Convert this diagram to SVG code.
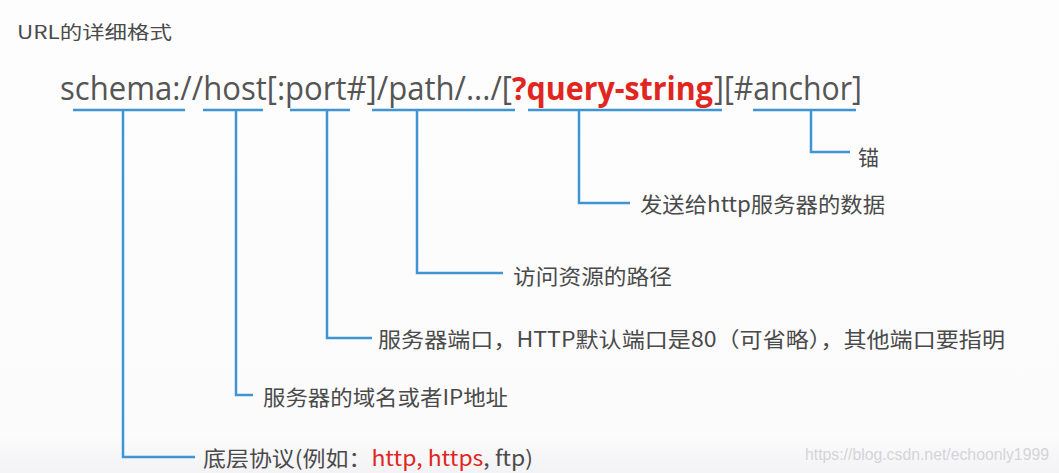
<svg xmlns="http://www.w3.org/2000/svg" width="1059" height="473" viewBox="0 0 1059 473">
<defs>
<style>
.t{font-family:"Noto Sans CJK SC","Noto Sans",sans-serif;fill:#4a4a4a}
.url{font-family:"Open Sans","Noto Sans CJK SC",sans-serif;font-size:32px;fill:#555}
.lbl{font-size:21px}
.red{fill:#e0261e}
.ln{fill:none;stroke:#3f94d4;stroke-width:2.5}
</style>
<linearGradient id="bg" x1="0" y1="0" x2="0" y2="1">
<stop offset="0" stop-color="#fdfdfe"/>
<stop offset="0.92" stop-color="#fbfbfc"/>
<stop offset="1" stop-color="#f3f3f5"/>
</linearGradient>
</defs>
<rect width="1059" height="473" fill="url(#bg)"/>
<text class="t" x="17" y="39" font-size="18" textLength="155" lengthAdjust="spacingAndGlyphs">URL的详细格式</text>
<g id="url">
<text class="url" x="60" y="100" textLength="452" lengthAdjust="spacingAndGlyphs">schema://host[:port#]/path/.../[</text>
<text class="url red" x="512" y="100" font-weight="bold" textLength="201" lengthAdjust="spacingAndGlyphs">?query-string</text>
<text class="url" x="714" y="100" textLength="148" lengthAdjust="spacingAndGlyphs">][#anchor]</text>
</g>
<g id="connectors">
<path class="ln" d="M73 110H185M123 110V457H195"/>
<path class="ln" d="M203 110H263M236 110V395H253"/>
<path class="ln" d="M290 110H350M327 110V338H372"/>
<path class="ln" d="M372 110H515M417 110V273H503"/>
<path class="ln" d="M528 110H722M579 110V203H630"/>
<path class="ln" d="M753 110H856M811 110V152H850"/>
</g>
<g id="anchor"><text class="t lbl" x="858" y="165">锚</text></g>
<g id="query"><text class="t lbl" x="640" y="212" textLength="245" lengthAdjust="spacingAndGlyphs">发送给http服务器的数据</text></g>
<g id="path"><text class="t lbl" x="513" y="284" textLength="159" lengthAdjust="spacingAndGlyphs">访问资源的路径</text></g>
<g id="port"><text class="t lbl" x="378" y="347" textLength="627" lengthAdjust="spacingAndGlyphs">服务器端口，HTTP默认端口是80（可省略），其他端口要指明</text></g>
<g id="host"><text class="t lbl" x="263" y="405" textLength="245" lengthAdjust="spacingAndGlyphs">服务器的域名或者IP地址</text></g>
<g id="schema"><text class="t lbl" x="203" y="466" textLength="330" lengthAdjust="spacingAndGlyphs">底层协议(例如：<tspan class="red">http, https</tspan>, ftp)</text></g>
<text x="805" y="460" font-family="Liberation Sans,sans-serif" font-size="16" fill="#d4d4d8" textLength="244" lengthAdjust="spacingAndGlyphs">https://blog.csdn.net/echoonly1999</text>
</svg>
